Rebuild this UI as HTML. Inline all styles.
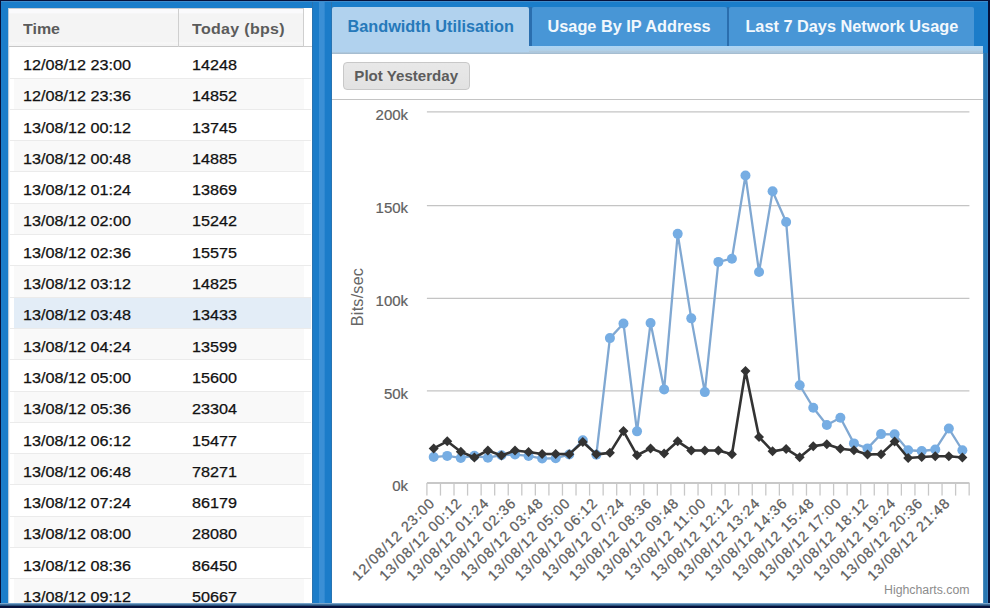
<!DOCTYPE html><html><head><meta charset="utf-8"><style>
*{margin:0;padding:0;box-sizing:border-box}
html,body{width:990px;height:608px;overflow:hidden;background:#06113a}
body{position:relative;font-family:"Liberation Sans",sans-serif}
.frame{position:absolute;left:1.2px;top:1.2px;width:986.8px;height:603px;background:#1a7dca;border-top:1.2px solid #3f8ccb}
.abs{position:absolute}
#left{left:8px;top:8px;width:304px;height:595px;background:#fff;overflow:hidden;box-shadow:inset 1.2px 0 0 #b9cddd}
#right{left:332px;top:8px;width:651px;height:595px;background:#fff}
.hdr{position:absolute;left:1px;top:0;width:294px;height:38.5px;background:linear-gradient(#fafafc 0,#fafafc 3.5px,#f4f4f4 5px,#f4f4f4 33px,#f9f9f9 34px,#f4f4f4 35.5px);border-bottom:1.2px solid #c6c6c6;border-top:1.4px solid #c9cdd2}
.hdr span{position:absolute;top:0;line-height:36px;padding-top:2px;font-weight:bold;font-size:14.8px;color:#5b5b5b;transform:scaleX(1.08);transform-origin:0 0}
.row{position:absolute;left:2px;width:300.5px;height:31.3px;border-bottom:1px solid #ebebeb}
.row span{position:absolute;top:0;line-height:31px;padding-top:1.7px;font-size:15.1px;color:#111;transform:scaleX(1.072);transform-origin:0 0;-webkit-text-stroke:0.25px #111}
.row.alt{background:linear-gradient(90deg,transparent 4px,#f9f9f9 4px,#f9f9f9 294.5px,transparent 294.5px)}
.row.hl{background:linear-gradient(90deg,transparent 4px,#e3edf7 4px);width:301px}
.tabbar{position:absolute;left:0;top:0;width:651px;height:45px;background:#1b7cc9}
.tab span{display:inline-block;transform:scaleX(1.045)}
.tab{position:absolute;top:-1px;height:39px;line-height:38.4px;padding-top:1.0px;font-weight:bold;font-size:15.6px;color:#f2f8fd;background:#4896d6;text-align:center;border-radius:2px 2px 0 0}
.tab.act{background:#b1d2ee;color:#2679ba;height:44.5px}
.strip{position:absolute;left:0;top:37.5px;width:651px;height:8.5px;background:linear-gradient(#acd5f5 0,#b1d0e8 55%,#afc6d8 75%,#a3b8c9 100%)}
.sline{position:absolute;left:0;top:43.5px;width:651px;height:2.5px;background:linear-gradient(#b0cde4,#a3b8c9)}
.btn{position:absolute;left:11px;top:53.6px;width:126.5px;height:28.9px;background:linear-gradient(#e8e8e8,#e2e2e2);border:1px solid #c8c8c8;border-radius:4px;font-weight:bold;font-size:15.1px;color:#5c5c5c;line-height:26px;text-align:center}
.sep{position:absolute;left:0;top:91px;width:651px;height:1.3px;background:#c4c4c4}
</style></head><body>
<div class="frame"></div>
<div class="abs" style="left:983px;top:53px;width:5.2px;height:552px;background:linear-gradient(90deg,#5d95c2 0,#2877b2 1.2px,#2575b0 3.6px,#3a82c0 4.5px,#1c3d70 5.2px)"></div>
<div class="abs" style="left:312px;top:2px;width:20px;height:603px;background:linear-gradient(90deg,#2f6fa6 0,#1b7cc9 1.6px,#1b7cc9 6.7px,#3a8fd5 7.0px,#3a8fd5 12.4px,#1b7cc9 12.7px,#1b7cc9 18.5px,#2f6fa6 20px)"></div>
<div id="left" class="abs">
<div class="hdr"><span style="left:14px">Time</span><span style="left:182.7px;letter-spacing:0.3px">Today (bps)</span><div class="abs" style="left:169px;top:0;width:1.3px;height:37.5px;background:#cfcfcf"></div><div class="abs" style="left:294px;top:-1px;width:1.3px;height:38.5px;background:#cfcfcf"></div></div><div class="abs" style="left:295px;top:37.5px;width:9px;height:1px;background:#cdcdcd"></div>
<div class="row" style="top:39.30px"><span style="left:12.8px">12/08/12 23:00</span><span style="left:181.6px">14248</span></div>
<div class="row alt" style="top:70.60px"><span style="left:12.8px">12/08/12 23:36</span><span style="left:181.6px">14852</span></div>
<div class="row" style="top:101.90px"><span style="left:12.8px">13/08/12 00:12</span><span style="left:181.6px">13745</span></div>
<div class="row alt" style="top:133.20px"><span style="left:12.8px">13/08/12 00:48</span><span style="left:181.6px">14885</span></div>
<div class="row" style="top:164.50px"><span style="left:12.8px">13/08/12 01:24</span><span style="left:181.6px">13869</span></div>
<div class="row alt" style="top:195.80px"><span style="left:12.8px">13/08/12 02:00</span><span style="left:181.6px">15242</span></div>
<div class="row" style="top:227.10px"><span style="left:12.8px">13/08/12 02:36</span><span style="left:181.6px">15575</span></div>
<div class="row alt" style="top:258.40px"><span style="left:12.8px">13/08/12 03:12</span><span style="left:181.6px">14825</span></div>
<div class="row hl" style="top:289.70px"><span style="left:12.8px">13/08/12 03:48</span><span style="left:181.6px">13433</span></div>
<div class="row alt" style="top:321.00px"><span style="left:12.8px">13/08/12 04:24</span><span style="left:181.6px">13599</span></div>
<div class="row" style="top:352.30px"><span style="left:12.8px">13/08/12 05:00</span><span style="left:181.6px">15600</span></div>
<div class="row alt" style="top:383.60px"><span style="left:12.8px">13/08/12 05:36</span><span style="left:181.6px">23304</span></div>
<div class="row" style="top:414.90px"><span style="left:12.8px">13/08/12 06:12</span><span style="left:181.6px">15477</span></div>
<div class="row alt" style="top:446.20px"><span style="left:12.8px">13/08/12 06:48</span><span style="left:181.6px">78271</span></div>
<div class="row" style="top:477.50px"><span style="left:12.8px">13/08/12 07:24</span><span style="left:181.6px">86179</span></div>
<div class="row alt" style="top:508.80px"><span style="left:12.8px">13/08/12 08:00</span><span style="left:181.6px">28080</span></div>
<div class="row" style="top:540.10px"><span style="left:12.8px">13/08/12 08:36</span><span style="left:181.6px">86450</span></div>
<div class="row alt" style="top:571.40px"><span style="left:12.8px">13/08/12 09:12</span><span style="left:181.6px">50667</span></div>
<div class="row" style="top:602.70px"><span style="left:12.8px">13/08/12 09:48</span><span style="left:181.6px">89000</span></div>
</div>
<div id="right" class="abs">
<div class="tabbar"></div><div class="abs" style="left:197.3px;top:-1px;width:2.3px;height:39px;background:#2a6eae"></div><div class="abs" style="left:395.2px;top:-1px;width:1.8px;height:39px;background:#2a6eae"></div><div class="strip"></div>
<div class="tab act" style="left:0;width:197.2px"><span>Bandwidth Utilisation</span></div>
<div class="tab" style="left:199.5px;width:195.5px"><span>Usage By IP Address</span></div>
<div class="tab" style="left:397px;width:245px"><span>Last 7 Days Network Usage</span></div>
<div class="sline"></div>
<div class="btn">Plot Yesterday</div>
<div class="sep"></div>
</div>
<svg class="abs" style="left:0;top:0" width="990" height="608" viewBox="0 0 990 608"><text x="408.1" y="490.80" text-anchor="end" font-size="15" fill="#606060" stroke="#606060" stroke-width="0.2" font-family="Liberation Sans">0k</text><line x1="426.9" y1="390.80" x2="969.4" y2="390.80" stroke="#c4c4c4" stroke-width="1.25"/><text x="408.1" y="398.60" text-anchor="end" font-size="15" fill="#606060" stroke="#606060" stroke-width="0.2" font-family="Liberation Sans">50k</text><line x1="426.9" y1="298.30" x2="969.4" y2="298.30" stroke="#c4c4c4" stroke-width="1.25"/><text x="408.1" y="306.10" text-anchor="end" font-size="15" fill="#606060" stroke="#606060" stroke-width="0.2" font-family="Liberation Sans">100k</text><line x1="426.9" y1="205.50" x2="969.4" y2="205.50" stroke="#c4c4c4" stroke-width="1.25"/><text x="408.1" y="213.30" text-anchor="end" font-size="15" fill="#606060" stroke="#606060" stroke-width="0.2" font-family="Liberation Sans">150k</text><line x1="426.9" y1="111.80" x2="969.4" y2="111.80" stroke="#c4c4c4" stroke-width="1.25"/><text x="408.1" y="119.60" text-anchor="end" font-size="15" fill="#606060" stroke="#606060" stroke-width="0.2" font-family="Liberation Sans">200k</text><line x1="426.9" y1="483.00" x2="969.4" y2="483.00" stroke="#c8c8c8" stroke-width="1.8"/><line x1="426.90" y1="483.00" x2="426.90" y2="495.6" stroke="#c8c8c8" stroke-width="1.3"/><line x1="440.46" y1="483.00" x2="440.46" y2="495.6" stroke="#c8c8c8" stroke-width="1.3"/><line x1="454.01" y1="483.00" x2="454.01" y2="495.6" stroke="#c8c8c8" stroke-width="1.3"/><line x1="467.57" y1="483.00" x2="467.57" y2="495.6" stroke="#c8c8c8" stroke-width="1.3"/><line x1="481.13" y1="483.00" x2="481.13" y2="495.6" stroke="#c8c8c8" stroke-width="1.3"/><line x1="494.68" y1="483.00" x2="494.68" y2="495.6" stroke="#c8c8c8" stroke-width="1.3"/><line x1="508.24" y1="483.00" x2="508.24" y2="495.6" stroke="#c8c8c8" stroke-width="1.3"/><line x1="521.80" y1="483.00" x2="521.80" y2="495.6" stroke="#c8c8c8" stroke-width="1.3"/><line x1="535.35" y1="483.00" x2="535.35" y2="495.6" stroke="#c8c8c8" stroke-width="1.3"/><line x1="548.91" y1="483.00" x2="548.91" y2="495.6" stroke="#c8c8c8" stroke-width="1.3"/><line x1="562.47" y1="483.00" x2="562.47" y2="495.6" stroke="#c8c8c8" stroke-width="1.3"/><line x1="576.02" y1="483.00" x2="576.02" y2="495.6" stroke="#c8c8c8" stroke-width="1.3"/><line x1="589.58" y1="483.00" x2="589.58" y2="495.6" stroke="#c8c8c8" stroke-width="1.3"/><line x1="603.14" y1="483.00" x2="603.14" y2="495.6" stroke="#c8c8c8" stroke-width="1.3"/><line x1="616.69" y1="483.00" x2="616.69" y2="495.6" stroke="#c8c8c8" stroke-width="1.3"/><line x1="630.25" y1="483.00" x2="630.25" y2="495.6" stroke="#c8c8c8" stroke-width="1.3"/><line x1="643.81" y1="483.00" x2="643.81" y2="495.6" stroke="#c8c8c8" stroke-width="1.3"/><line x1="657.36" y1="483.00" x2="657.36" y2="495.6" stroke="#c8c8c8" stroke-width="1.3"/><line x1="670.92" y1="483.00" x2="670.92" y2="495.6" stroke="#c8c8c8" stroke-width="1.3"/><line x1="684.48" y1="483.00" x2="684.48" y2="495.6" stroke="#c8c8c8" stroke-width="1.3"/><line x1="698.03" y1="483.00" x2="698.03" y2="495.6" stroke="#c8c8c8" stroke-width="1.3"/><line x1="711.59" y1="483.00" x2="711.59" y2="495.6" stroke="#c8c8c8" stroke-width="1.3"/><line x1="725.15" y1="483.00" x2="725.15" y2="495.6" stroke="#c8c8c8" stroke-width="1.3"/><line x1="738.70" y1="483.00" x2="738.70" y2="495.6" stroke="#c8c8c8" stroke-width="1.3"/><line x1="752.26" y1="483.00" x2="752.26" y2="495.6" stroke="#c8c8c8" stroke-width="1.3"/><line x1="765.81" y1="483.00" x2="765.81" y2="495.6" stroke="#c8c8c8" stroke-width="1.3"/><line x1="779.37" y1="483.00" x2="779.37" y2="495.6" stroke="#c8c8c8" stroke-width="1.3"/><line x1="792.93" y1="483.00" x2="792.93" y2="495.6" stroke="#c8c8c8" stroke-width="1.3"/><line x1="806.48" y1="483.00" x2="806.48" y2="495.6" stroke="#c8c8c8" stroke-width="1.3"/><line x1="820.04" y1="483.00" x2="820.04" y2="495.6" stroke="#c8c8c8" stroke-width="1.3"/><line x1="833.60" y1="483.00" x2="833.60" y2="495.6" stroke="#c8c8c8" stroke-width="1.3"/><line x1="847.15" y1="483.00" x2="847.15" y2="495.6" stroke="#c8c8c8" stroke-width="1.3"/><line x1="860.71" y1="483.00" x2="860.71" y2="495.6" stroke="#c8c8c8" stroke-width="1.3"/><line x1="874.27" y1="483.00" x2="874.27" y2="495.6" stroke="#c8c8c8" stroke-width="1.3"/><line x1="887.82" y1="483.00" x2="887.82" y2="495.6" stroke="#c8c8c8" stroke-width="1.3"/><line x1="901.38" y1="483.00" x2="901.38" y2="495.6" stroke="#c8c8c8" stroke-width="1.3"/><line x1="914.94" y1="483.00" x2="914.94" y2="495.6" stroke="#c8c8c8" stroke-width="1.3"/><line x1="928.49" y1="483.00" x2="928.49" y2="495.6" stroke="#c8c8c8" stroke-width="1.3"/><line x1="942.05" y1="483.00" x2="942.05" y2="495.6" stroke="#c8c8c8" stroke-width="1.3"/><line x1="955.61" y1="483.00" x2="955.61" y2="495.6" stroke="#c8c8c8" stroke-width="1.3"/><line x1="969.16" y1="483.00" x2="969.16" y2="495.6" stroke="#c8c8c8" stroke-width="1.3"/><text transform="translate(362.5 297) rotate(-90)" text-anchor="middle" font-size="16.2" letter-spacing="0.2" fill="#666" font-family="Liberation Sans">Bits/sec</text><text transform="translate(435.88 503.80) rotate(-45)" text-anchor="end" font-size="14.4" letter-spacing="1.0" fill="#5e5e5e" stroke="#5e5e5e" stroke-width="0.25" font-family="Liberation Sans">12/08/12 23:00</text><text transform="translate(462.99 503.80) rotate(-45)" text-anchor="end" font-size="14.4" letter-spacing="1.0" fill="#5e5e5e" stroke="#5e5e5e" stroke-width="0.25" font-family="Liberation Sans">13/08/12 00:12</text><text transform="translate(490.10 503.80) rotate(-45)" text-anchor="end" font-size="14.4" letter-spacing="1.0" fill="#5e5e5e" stroke="#5e5e5e" stroke-width="0.25" font-family="Liberation Sans">13/08/12 01:24</text><text transform="translate(517.22 503.80) rotate(-45)" text-anchor="end" font-size="14.4" letter-spacing="1.0" fill="#5e5e5e" stroke="#5e5e5e" stroke-width="0.25" font-family="Liberation Sans">13/08/12 02:36</text><text transform="translate(544.33 503.80) rotate(-45)" text-anchor="end" font-size="14.4" letter-spacing="1.0" fill="#5e5e5e" stroke="#5e5e5e" stroke-width="0.25" font-family="Liberation Sans">13/08/12 03:48</text><text transform="translate(571.44 503.80) rotate(-45)" text-anchor="end" font-size="14.4" letter-spacing="1.0" fill="#5e5e5e" stroke="#5e5e5e" stroke-width="0.25" font-family="Liberation Sans">13/08/12 05:00</text><text transform="translate(598.56 503.80) rotate(-45)" text-anchor="end" font-size="14.4" letter-spacing="1.0" fill="#5e5e5e" stroke="#5e5e5e" stroke-width="0.25" font-family="Liberation Sans">13/08/12 06:12</text><text transform="translate(625.67 503.80) rotate(-45)" text-anchor="end" font-size="14.4" letter-spacing="1.0" fill="#5e5e5e" stroke="#5e5e5e" stroke-width="0.25" font-family="Liberation Sans">13/08/12 07:24</text><text transform="translate(652.78 503.80) rotate(-45)" text-anchor="end" font-size="14.4" letter-spacing="1.0" fill="#5e5e5e" stroke="#5e5e5e" stroke-width="0.25" font-family="Liberation Sans">13/08/12 08:36</text><text transform="translate(679.90 503.80) rotate(-45)" text-anchor="end" font-size="14.4" letter-spacing="1.0" fill="#5e5e5e" stroke="#5e5e5e" stroke-width="0.25" font-family="Liberation Sans">13/08/12 09:48</text><text transform="translate(707.01 503.80) rotate(-45)" text-anchor="end" font-size="14.4" letter-spacing="1.0" fill="#5e5e5e" stroke="#5e5e5e" stroke-width="0.25" font-family="Liberation Sans">13/08/12 11:00</text><text transform="translate(734.12 503.80) rotate(-45)" text-anchor="end" font-size="14.4" letter-spacing="1.0" fill="#5e5e5e" stroke="#5e5e5e" stroke-width="0.25" font-family="Liberation Sans">13/08/12 12:12</text><text transform="translate(761.24 503.80) rotate(-45)" text-anchor="end" font-size="14.4" letter-spacing="1.0" fill="#5e5e5e" stroke="#5e5e5e" stroke-width="0.25" font-family="Liberation Sans">13/08/12 13:24</text><text transform="translate(788.35 503.80) rotate(-45)" text-anchor="end" font-size="14.4" letter-spacing="1.0" fill="#5e5e5e" stroke="#5e5e5e" stroke-width="0.25" font-family="Liberation Sans">13/08/12 14:36</text><text transform="translate(815.46 503.80) rotate(-45)" text-anchor="end" font-size="14.4" letter-spacing="1.0" fill="#5e5e5e" stroke="#5e5e5e" stroke-width="0.25" font-family="Liberation Sans">13/08/12 15:48</text><text transform="translate(842.58 503.80) rotate(-45)" text-anchor="end" font-size="14.4" letter-spacing="1.0" fill="#5e5e5e" stroke="#5e5e5e" stroke-width="0.25" font-family="Liberation Sans">13/08/12 17:00</text><text transform="translate(869.69 503.80) rotate(-45)" text-anchor="end" font-size="14.4" letter-spacing="1.0" fill="#5e5e5e" stroke="#5e5e5e" stroke-width="0.25" font-family="Liberation Sans">13/08/12 18:12</text><text transform="translate(896.80 503.80) rotate(-45)" text-anchor="end" font-size="14.4" letter-spacing="1.0" fill="#5e5e5e" stroke="#5e5e5e" stroke-width="0.25" font-family="Liberation Sans">13/08/12 19:24</text><text transform="translate(923.92 503.80) rotate(-45)" text-anchor="end" font-size="14.4" letter-spacing="1.0" fill="#5e5e5e" stroke="#5e5e5e" stroke-width="0.25" font-family="Liberation Sans">13/08/12 20:36</text><text transform="translate(951.03 503.80) rotate(-45)" text-anchor="end" font-size="14.4" letter-spacing="1.0" fill="#5e5e5e" stroke="#5e5e5e" stroke-width="0.25" font-family="Liberation Sans">13/08/12 21:48</text><path d="M433.68 457.03 L447.23 455.91 L460.79 457.97 L474.35 455.85 L487.90 457.74 L501.46 455.19 L515.02 454.57 L528.57 455.96 L542.13 458.55 L555.69 458.24 L569.24 454.52 L582.80 440.21 L596.36 454.75 L609.91 338.11 L623.47 323.42 L637.03 431.34 L650.58 322.92 L664.14 389.39 L677.70 233.85 L691.25 318.37 L704.81 392.11 L718.37 261.90 L731.92 258.74 L745.48 175.53 L759.04 271.93 L772.59 191.32 L786.15 221.96 L799.71 385.24 L813.26 407.71 L826.82 424.99 L840.38 417.74 L853.93 443.38 L867.49 448.39 L881.05 434.09 L894.60 434.28 L908.16 450.25 L921.72 450.99 L935.27 449.51 L948.83 428.52 L962.39 450.25" fill="none" stroke="#80a8d2" stroke-width="2.3" stroke-linejoin="round"/><circle cx="433.68" cy="457.03" r="5" fill="#76ade3"/><circle cx="447.23" cy="455.91" r="5" fill="#76ade3"/><circle cx="460.79" cy="457.97" r="5" fill="#76ade3"/><circle cx="474.35" cy="455.85" r="5" fill="#76ade3"/><circle cx="487.90" cy="457.74" r="5" fill="#76ade3"/><circle cx="501.46" cy="455.19" r="5" fill="#76ade3"/><circle cx="515.02" cy="454.57" r="5" fill="#76ade3"/><circle cx="528.57" cy="455.96" r="5" fill="#76ade3"/><circle cx="542.13" cy="458.55" r="5" fill="#76ade3"/><circle cx="555.69" cy="458.24" r="5" fill="#76ade3"/><circle cx="569.24" cy="454.52" r="5" fill="#76ade3"/><circle cx="582.80" cy="440.21" r="5" fill="#76ade3"/><circle cx="596.36" cy="454.75" r="5" fill="#76ade3"/><circle cx="609.91" cy="338.11" r="5" fill="#76ade3"/><circle cx="623.47" cy="323.42" r="5" fill="#76ade3"/><circle cx="637.03" cy="431.34" r="5" fill="#76ade3"/><circle cx="650.58" cy="322.92" r="5" fill="#76ade3"/><circle cx="664.14" cy="389.39" r="5" fill="#76ade3"/><circle cx="677.70" cy="233.85" r="5" fill="#76ade3"/><circle cx="691.25" cy="318.37" r="5" fill="#76ade3"/><circle cx="704.81" cy="392.11" r="5" fill="#76ade3"/><circle cx="718.37" cy="261.90" r="5" fill="#76ade3"/><circle cx="731.92" cy="258.74" r="5" fill="#76ade3"/><circle cx="745.48" cy="175.53" r="5" fill="#76ade3"/><circle cx="759.04" cy="271.93" r="5" fill="#76ade3"/><circle cx="772.59" cy="191.32" r="5" fill="#76ade3"/><circle cx="786.15" cy="221.96" r="5" fill="#76ade3"/><circle cx="799.71" cy="385.24" r="5" fill="#76ade3"/><circle cx="813.26" cy="407.71" r="5" fill="#76ade3"/><circle cx="826.82" cy="424.99" r="5" fill="#76ade3"/><circle cx="840.38" cy="417.74" r="5" fill="#76ade3"/><circle cx="853.93" cy="443.38" r="5" fill="#76ade3"/><circle cx="867.49" cy="448.39" r="5" fill="#76ade3"/><circle cx="881.05" cy="434.09" r="5" fill="#76ade3"/><circle cx="894.60" cy="434.28" r="5" fill="#76ade3"/><circle cx="908.16" cy="450.25" r="5" fill="#76ade3"/><circle cx="921.72" cy="450.99" r="5" fill="#76ade3"/><circle cx="935.27" cy="449.51" r="5" fill="#76ade3"/><circle cx="948.83" cy="428.52" r="5" fill="#76ade3"/><circle cx="962.39" cy="450.25" r="5" fill="#76ade3"/><path d="M433.68 448.39 L447.23 441.33 L460.79 451.74 L474.35 457.50 L487.90 450.44 L501.46 455.45 L515.02 450.44 L528.57 451.92 L542.13 453.97 L555.69 453.97 L569.24 454.15 L582.80 442.08 L596.36 454.34 L609.91 452.85 L623.47 431.12 L637.03 455.27 L650.58 448.39 L664.14 453.41 L677.70 441.33 L691.25 450.44 L704.81 450.44 L718.37 450.44 L731.92 454.34 L745.48 370.94 L759.04 437.06 L772.59 451.37 L786.15 448.95 L799.71 457.31 L813.26 446.16 L826.82 444.31 L840.38 448.76 L853.93 450.25 L867.49 454.52 L881.05 454.15 L894.60 441.52 L908.16 458.05 L921.72 456.94 L935.27 456.19 L948.83 456.19 L962.39 457.50" fill="none" stroke="#333" stroke-width="2.6" stroke-linejoin="round"/><path d="M433.68 443.39 L438.68 448.39 L433.68 453.39 L428.68 448.39 Z" fill="#333"/><path d="M447.23 436.33 L452.23 441.33 L447.23 446.33 L442.23 441.33 Z" fill="#333"/><path d="M460.79 446.74 L465.79 451.74 L460.79 456.74 L455.79 451.74 Z" fill="#333"/><path d="M474.35 452.50 L479.35 457.50 L474.35 462.50 L469.35 457.50 Z" fill="#333"/><path d="M487.90 445.44 L492.90 450.44 L487.90 455.44 L482.90 450.44 Z" fill="#333"/><path d="M501.46 450.45 L506.46 455.45 L501.46 460.45 L496.46 455.45 Z" fill="#333"/><path d="M515.02 445.44 L520.02 450.44 L515.02 455.44 L510.02 450.44 Z" fill="#333"/><path d="M528.57 446.92 L533.57 451.92 L528.57 456.92 L523.57 451.92 Z" fill="#333"/><path d="M542.13 448.97 L547.13 453.97 L542.13 458.97 L537.13 453.97 Z" fill="#333"/><path d="M555.69 448.97 L560.69 453.97 L555.69 458.97 L550.69 453.97 Z" fill="#333"/><path d="M569.24 449.15 L574.24 454.15 L569.24 459.15 L564.24 454.15 Z" fill="#333"/><path d="M582.80 437.08 L587.80 442.08 L582.80 447.08 L577.80 442.08 Z" fill="#333"/><path d="M596.36 449.34 L601.36 454.34 L596.36 459.34 L591.36 454.34 Z" fill="#333"/><path d="M609.91 447.85 L614.91 452.85 L609.91 457.85 L604.91 452.85 Z" fill="#333"/><path d="M623.47 426.12 L628.47 431.12 L623.47 436.12 L618.47 431.12 Z" fill="#333"/><path d="M637.03 450.27 L642.03 455.27 L637.03 460.27 L632.03 455.27 Z" fill="#333"/><path d="M650.58 443.39 L655.58 448.39 L650.58 453.39 L645.58 448.39 Z" fill="#333"/><path d="M664.14 448.41 L669.14 453.41 L664.14 458.41 L659.14 453.41 Z" fill="#333"/><path d="M677.70 436.33 L682.70 441.33 L677.70 446.33 L672.70 441.33 Z" fill="#333"/><path d="M691.25 445.44 L696.25 450.44 L691.25 455.44 L686.25 450.44 Z" fill="#333"/><path d="M704.81 445.44 L709.81 450.44 L704.81 455.44 L699.81 450.44 Z" fill="#333"/><path d="M718.37 445.44 L723.37 450.44 L718.37 455.44 L713.37 450.44 Z" fill="#333"/><path d="M731.92 449.34 L736.92 454.34 L731.92 459.34 L726.92 454.34 Z" fill="#333"/><path d="M745.48 365.94 L750.48 370.94 L745.48 375.94 L740.48 370.94 Z" fill="#333"/><path d="M759.04 432.06 L764.04 437.06 L759.04 442.06 L754.04 437.06 Z" fill="#333"/><path d="M772.59 446.37 L777.59 451.37 L772.59 456.37 L767.59 451.37 Z" fill="#333"/><path d="M786.15 443.95 L791.15 448.95 L786.15 453.95 L781.15 448.95 Z" fill="#333"/><path d="M799.71 452.31 L804.71 457.31 L799.71 462.31 L794.71 457.31 Z" fill="#333"/><path d="M813.26 441.16 L818.26 446.16 L813.26 451.16 L808.26 446.16 Z" fill="#333"/><path d="M826.82 439.31 L831.82 444.31 L826.82 449.31 L821.82 444.31 Z" fill="#333"/><path d="M840.38 443.76 L845.38 448.76 L840.38 453.76 L835.38 448.76 Z" fill="#333"/><path d="M853.93 445.25 L858.93 450.25 L853.93 455.25 L848.93 450.25 Z" fill="#333"/><path d="M867.49 449.52 L872.49 454.52 L867.49 459.52 L862.49 454.52 Z" fill="#333"/><path d="M881.05 449.15 L886.05 454.15 L881.05 459.15 L876.05 454.15 Z" fill="#333"/><path d="M894.60 436.52 L899.60 441.52 L894.60 446.52 L889.60 441.52 Z" fill="#333"/><path d="M908.16 453.05 L913.16 458.05 L908.16 463.05 L903.16 458.05 Z" fill="#333"/><path d="M921.72 451.94 L926.72 456.94 L921.72 461.94 L916.72 456.94 Z" fill="#333"/><path d="M935.27 451.19 L940.27 456.19 L935.27 461.19 L930.27 456.19 Z" fill="#333"/><path d="M948.83 451.19 L953.83 456.19 L948.83 461.19 L943.83 456.19 Z" fill="#333"/><path d="M962.39 452.50 L967.39 457.50 L962.39 462.50 L957.39 457.50 Z" fill="#333"/><text x="969.5" y="594" text-anchor="end" font-size="12.3" fill="#8c8c8c" font-family="Liberation Sans">Highcharts.com</text></svg>
<div class="abs" style="left:0;top:603.1px;width:990px;height:3.4px;background:linear-gradient(#a9d2ee 0,#4d7eab 30%,#34628f 75%,#0f2752 100%)"></div>
</body></html>
